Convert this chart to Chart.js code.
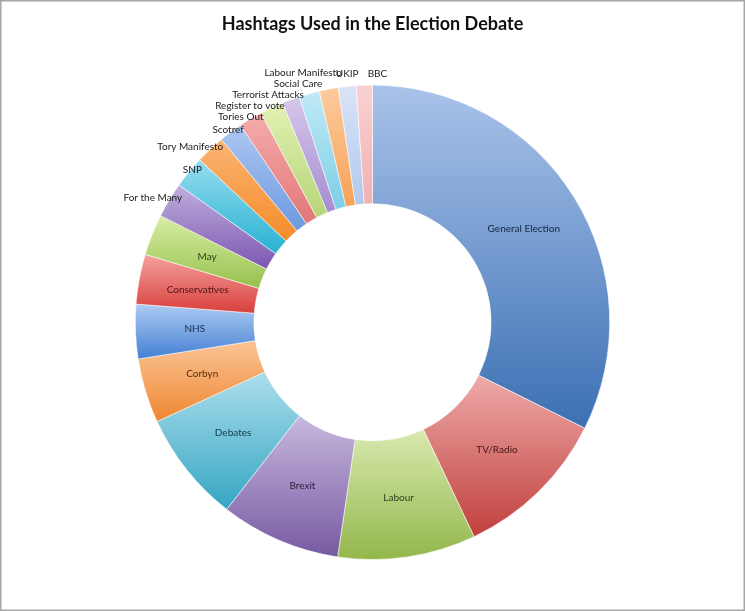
<!DOCTYPE html>
<html>
<head>
<meta charset="utf-8">
<title>Hashtags Used in the Election Debate</title>
<script src="https://cdn.jsdelivr.net/npm/chart.js@4.4.1/dist/chart.umd.min.js"></script>
<style>
    html, body { margin: 0; padding: 0; background: #ffffff; }
    canvas { display: block; }
</style>
</head>
<body>
<canvas id="hashtagChart" width="745" height="611"></canvas>
<script>
// Hashtag categories, clockwise from 12 o'clock
const hashtags = [
    'General Election', 'TV/Radio', 'Labour', 'Brexit', 'Debates', 'Corbyn', 'NHS',
    'Conservatives', 'May', 'For the Many', 'SNP', 'Tory Manifesto', 'Scotref',
    'Tories Out', 'Register to vote', 'Terrorist Attacks', 'Social Care',
    'Labour Manifesto', 'UKIP', 'BBC'
];

// Share of mentions (%)
const shares = [
    32.4, 10.6, 9.4, 8.2, 7.6, 4.4, 3.7,
    3.4, 2.8, 2.4, 2.2, 2.0, 1.6,
    1.6, 1.6, 1.2, 1.4,
    1.3, 1.2, 1.1
];

// Gradient stops per slice (top -> bottom), Excel style
const lightColors = [
    '#aac3ea', '#eeaaa8', '#d8e9ae', '#c7b8de', '#acdeec', '#fbc495', '#aecbf2',
    '#f4a19d', '#d9eea6', '#bfaedd', '#97dcef', '#fbb473', '#adc7f1',
    '#f5adad', '#e2f1b4', '#d6c7ec', '#c1eaf6', '#fccb9f', '#d9e4f7', '#f9d2d3'
];
const darkColors = [
    '#3b70b3', '#c0403d', '#93b74c', '#7659a1', '#35a5c2', '#ee8731', '#4480d4',
    '#d8403d', '#96c04c', '#7d56b1', '#26b2d2', '#f58c2a', '#6d99df',
    '#e37676', '#b6d578', '#a58ccf', '#7ccee6', '#f6a257', '#b2c8ed', '#f1b0b2'
];

// Slices smaller than this get their label outside the ring
const insideLabelMin = 2.5;

function darken(hex, f) {
    const n = parseInt(hex.slice(1), 16);
    const r = Math.round(((n >> 16) & 255) * f);
    const g = Math.round(((n >> 8) & 255) * f);
    const b = Math.round((n & 255) * f);
    return `rgb(${r}, ${g}, ${b})`;
}

// Give every slice its own vertical gradient over its own bounding box
const sliceGradientPlugin = {
    id: 'sliceGradient',
    beforeDatasetsDraw(chart) {
        const ctx = chart.ctx;
        const meta = chart.getDatasetMeta(0);
        meta.data.forEach((arc, i) => {
            const p = arc.getProps(['x', 'y', 'startAngle', 'endAngle', 'innerRadius', 'outerRadius'], true);
            let minY = Infinity, maxY = -Infinity;
            for (let k = 0; k <= 30; k++) {
                const a = p.startAngle + (p.endAngle - p.startAngle) * k / 30;
                [p.innerRadius, p.outerRadius].forEach(r => {
                    const y = p.y + r * Math.sin(a);
                    minY = Math.min(minY, y);
                    maxY = Math.max(maxY, y);
                });
            }
            const grad = ctx.createLinearGradient(0, minY, 0, maxY);
            grad.addColorStop(0, lightColors[i]);
            grad.addColorStop(1, darkColors[i]);
            arc.options.backgroundColor = grad;
        });
    }
};

// Data labels: inside the ring for big slices, stacked outside for small ones
const sliceLabelPlugin = {
    id: 'sliceLabels',
    afterDatasetsDraw(chart) {
        const ctx = chart.ctx;
        const meta = chart.getDatasetMeta(0);
        ctx.save();
        ctx.font = '10px Lato';
        ctx.textBaseline = 'middle';
        let lastY = Infinity;
        let lastRight = -Infinity;
        meta.data.forEach((arc, i) => {
            const p = arc.getProps(['x', 'y', 'startAngle', 'endAngle', 'innerRadius', 'outerRadius'], true);
            const mid = (p.startAngle + p.endAngle) / 2;
            if (shares[i] >= insideLabelMin) {
                const r = (p.innerRadius + p.outerRadius) / 2;
                ctx.fillStyle = darken(darkColors[i], 0.35);
                ctx.textAlign = 'center';
                ctx.fillText(hashtags[i], p.x + r * Math.cos(mid), p.y + r * Math.sin(mid));
                return;
            }
            const ax = p.x + p.outerRadius * Math.cos(mid);
            const ay = p.y + p.outerRadius * Math.sin(mid);
            ctx.fillStyle = '#222222';
            const fromTop = 1.5 * Math.PI - mid;
            if (fromTop < 8 * Math.PI / 180) {
                // near 12 o'clock: side by side above the ring
                const w = ctx.measureText(hashtags[i]).width;
                const left = Math.max(ax - w / 2, lastRight + 9);
                lastRight = left + w;
                ctx.textAlign = 'left';
                ctx.fillText(hashtags[i], left, p.y - p.outerRadius - 11);
            } else {
                const y = Math.min(ay - 2, lastY - 11);
                lastY = y;
                ctx.textAlign = 'right';
                ctx.fillText(hashtags[i], ax + 13, y);
            }
        });
        ctx.restore();
    }
};

// Thin grey frame round the picture
const framePlugin = {
    id: 'frame',
    afterDraw(chart) {
        const ctx = chart.ctx;
        ctx.save();
        ctx.strokeStyle = '#a6a6a6';
        ctx.lineWidth = 1.5;
        ctx.strokeRect(0.75, 0.75, chart.width - 1.5, chart.height - 1.5);
        ctx.restore();
    }
};

new Chart(document.getElementById('hashtagChart').getContext('2d'), {
    type: 'doughnut',
    data: {
        labels: hashtags,
        datasets: [{
            data: shares,
            backgroundColor: lightColors,
            borderColor: 'rgba(255, 255, 255, 0.55)',
            borderWidth: 1,
            hoverOffset: 0
        }]
    },
    options: {
        responsive: false,
        animation: false,
        events: [],
        cutout: '50%',
        layout: {
            padding: { left: 10, right: 10, bottom: 51 }
        },
        plugins: {
            legend: { display: false },
            tooltip: { enabled: false },
            title: {
                display: true,
                text: 'Hashtags Used in the Election Debate',
                color: '#111111',
                font: { family: 'Lato', size: 18, weight: 'bold' },
                padding: { top: 13, bottom: 50 }
            }
        }
    },
    plugins: [sliceGradientPlugin, sliceLabelPlugin, framePlugin]
});
</script>
</body>
</html>
